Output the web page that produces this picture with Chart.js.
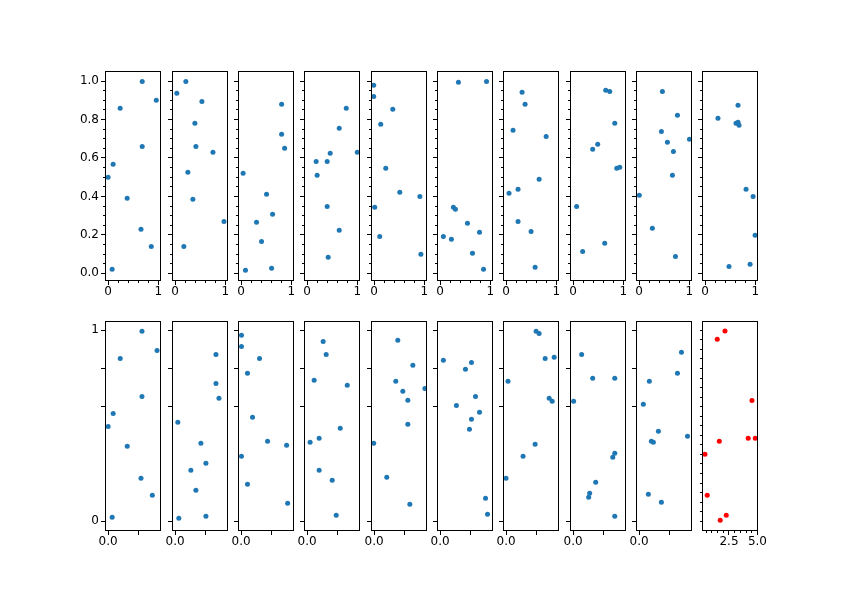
<!DOCTYPE html>
<html>
<head>
<meta charset="utf-8">
<script src="https://cdn.jsdelivr.net/npm/chart.js@4"></script>
<style>
  body { margin: 0; background: #fff; }
  #fig { position: relative; width: 842px; height: 595px; overflow: hidden; background: #fff; }
  #fig canvas { position: absolute; }
</style>
</head>
<body>
<div id="fig"></div>
<script>
// ---- top row: ten panels, x and y per panel ----
const topX = [
    [0.68, 0.96, 0.24, 0.68, 0.10, 0.00, 0.38, 0.655, 0.86, 0.08],
    [0.214, 0.034, 0.534, 0.394, 0.414, 0.754, 0.254, 0.354, 0.974, 0.174],
    [0.807, 0.807, 0.867, 0.04, 0.507, 0.627, 0.307, 0.407, 0.087, 0.607],
    [0.78, 0.64, 0.46, 1.0, 0.18, 0.40, 0.20, 0.40, 0.64, 0.42],
    [-0.008, -0.008, 0.372, 0.132, 0.232, 0.512, 0.912, 0.012, 0.112, 0.932],
    [0.365, 0.925, 0.265, 0.305, 0.545, 0.785, 0.065, 0.225, 0.645, 0.865],
    [0.318, 0.378, 0.138, 0.798, 0.658, 0.058, 0.238, 0.238, 0.498, 0.578],
    [0.65, 0.73, 0.83, 0.49, 0.39, 0.87, 0.93, 0.07, 0.63, 0.19],
    [0.464, 0.764, 0.444, 1.004, 0.564, 0.684, 0.664, 0.004, 0.264, 0.724],
    [0.256, 0.656, 0.616, 0.656, 0.676, 0.816, 0.956, 0.996, 0.476, 0.896]
];
const topY = [
    [0.998, 0.90, 0.858, 0.66, 0.567, 0.50, 0.39, 0.229, 0.14, 0.021],
    [0.998, 0.936, 0.894, 0.78, 0.66, 0.629, 0.525, 0.385, 0.27, 0.14],
    [0.879, 0.723, 0.65, 0.52, 0.411, 0.307, 0.265, 0.166, 0.016, 0.026],
    [0.858, 0.754, 0.624, 0.629, 0.582, 0.582, 0.51, 0.348, 0.224, 0.083],
    [0.978, 0.92, 0.853, 0.775, 0.546, 0.421, 0.40, 0.343, 0.192, 0.099],
    [0.993, 0.998, 0.343, 0.333, 0.26, 0.213, 0.192, 0.177, 0.104, 0.021],
    [0.941, 0.879, 0.744, 0.712, 0.489, 0.416, 0.437, 0.27, 0.218, 0.031],
    [0.952, 0.946, 0.78, 0.671, 0.645, 0.546, 0.551, 0.348, 0.156, 0.114],
    [0.946, 0.822, 0.738, 0.697, 0.681, 0.634, 0.51, 0.406, 0.234, 0.088],
    [0.806, 0.874, 0.78, 0.785, 0.77, 0.437, 0.40, 0.198, 0.036, 0.047]
];

// ---- bottom row: nine blue panels ----
const botX = [
    [0.675, 0.975, 0.241, 0.675, 0.101, 0.001, 0.381, 0.655, 0.881, 0.081],
    [0.814, 0.814, 0.874, 0.054, 0.514, 0.614, 0.314, 0.414, 0.074, 0.614],
    [0.007, 0.007, 0.367, 0.127, 0.227, 0.527, 0.907, 0.007, 0.127, 0.927],
    [0.32, 0.38, 0.14, 0.80, 0.66, 0.24, 0.06, 0.24, 0.50, 0.58],
    [0.472, 0.772, 0.432, 1.012, 0.572, 0.672, 0.672, -0.008, 0.252, 0.712],
    [0.065, 0.625, 0.505, 0.705, 0.325, 0.785, 0.625, 0.585, 0.905, 0.945],
    [0.598, 0.658, 0.958, 0.778, 0.038, 0.858, 0.918, 0.578, 0.338, -0.002],
    [0.17, 0.39, 0.83, 0.01, 0.83, 0.79, 0.45, 0.33, 0.31, 0.83],
    [0.844, 0.764, 0.204, 0.084, 0.384, 0.964, 0.244, 0.284, 0.184, 0.444]
];
const botY = [
    [0.995, 0.895, 0.853, 0.654, 0.565, 0.497, 0.393, 0.225, 0.136, 0.021],
    [0.874, 0.722, 0.644, 0.518, 0.408, 0.304, 0.267, 0.162, 0.016, 0.026],
    [0.974, 0.916, 0.853, 0.775, 0.545, 0.419, 0.398, 0.34, 0.194, 0.094],
    [0.942, 0.874, 0.738, 0.712, 0.487, 0.435, 0.414, 0.267, 0.215, 0.031],
    [0.948, 0.817, 0.733, 0.696, 0.681, 0.634, 0.508, 0.408, 0.23, 0.089],
    [0.843, 0.832, 0.796, 0.654, 0.607, 0.571, 0.534, 0.482, 0.12, 0.037],
    [0.995, 0.984, 0.859, 0.853, 0.733, 0.644, 0.628, 0.403, 0.34, 0.225],
    [0.874, 0.749, 0.749, 0.628, 0.356, 0.335, 0.204, 0.147, 0.126, 0.026],
    [0.885, 0.775, 0.733, 0.613, 0.471, 0.445, 0.419, 0.414, 0.141, 0.099]
];

// ---- bottom right red panel ----
const redX = [2.15, 1.47, 4.52, 1.65, 4.19, 4.81, 0.39, 0.59, 1.73, 2.26];
const redY = [0.996, 0.953, 0.633, 0.419, 0.435, 0.435, 0.351, 0.136, 0.005, 0.031];

// ---- ticks ----
const topXTicks = [0, 1];
const topXLabels = ['0', '1'];
const topXMinor = [0.2, 0.4, 0.6, 0.8];
const topYTicks = [0, 0.2, 0.4, 0.6, 0.8, 1.0];
const topYLabels = ['0.0', '0.2', '0.4', '0.6', '0.8', '1.0'];
const topYMinor = [0.05, 0.1, 0.15, 0.25, 0.3, 0.35, 0.45, 0.5, 0.55, 0.65, 0.7, 0.75, 0.85, 0.9, 0.95];
const botXTicks = [0, 0.615];
const botXLabels = ['0.0', ''];
const botYTicks = [0, 0.6, 0.8, 1];
const botYLabels = ['0', '', '', '1'];
const redXTicks = [2.5, 5.0];
const redXLabels = ['2.5', '5.0'];
const redXMinor = [0.5, 1.0, 1.5, 2.0, 3.0, 3.5, 4.0, 4.5];
const redYMinor = [0, 0.05, 0.1, 0.15, 0.2, 0.25, 0.3, 0.35, 0.4, 0.45, 0.5,
                   0.55, 0.6, 0.65, 0.7, 0.75, 0.8, 0.85, 0.9, 0.95, 1.0];

const FONT = { family: 'DejaVu Sans', size: 12 };
const PAD = { l: 40, r: 16, t: 12, b: 26 };
const W = 56, H = 210;
const ROW_TOP = [71, 321];

// spines on all four sides
const framePlugin = {
    id: 'frame',
    afterDraw(chart) {
        const a = chart.chartArea, c = chart.ctx;
        c.save();
        c.strokeStyle = '#000';
        c.lineWidth = 1;
        c.strokeRect(Math.round(a.left) + 0.5, Math.round(a.top) + 0.5,
                     Math.round(a.right - a.left) - 1, Math.round(a.bottom - a.top) - 1);
        c.restore();
    }
};

function axis(dir, pos, range, ticks, labels, len, weight, size) {
    return {
        type: 'linear', axis: dir, position: pos, weight: weight,
        min: range[0], max: range[1],
        afterBuildTicks: function(s) { s.ticks = ticks.map(function(v) { return { value: v }; }); },
        afterFit: function(s) { if (dir === 'x') s.height = size; else s.width = size; },
        ticks: {
            autoSkip: false, maxRotation: 0, minRotation: 0, font: FONT, color: '#000',
            padding: dir === 'x' ? 0 : 2,
            callback: function(v, i) { return labels ? labels[i] : ''; }
        },
        grid: { drawOnChartArea: false, drawTicks: true, tickLength: len, tickColor: '#000', tickWidth: 1 },
        border: { display: false }
    };
}

function panel(left, top, xs, ys, color, sc) {
    const cv = document.createElement('canvas');
    cv.width = W + PAD.l + PAD.r;
    cv.height = H + PAD.t + PAD.b;
    cv.style.left = (left - PAD.l) + 'px';
    cv.style.top = (top - PAD.t) + 'px';
    document.getElementById('fig').appendChild(cv);

    const scales = {
        x: axis('x', 'bottom', sc.xr, sc.xt, sc.xl, 4, 1, PAD.b),
        y: axis('y', 'left', sc.yr, sc.yt, sc.yl, 4, 1, PAD.l)
    };
    if (sc.xm) scales.xm = axis('x', 'bottom', sc.xr, sc.xm, null, 2, 0, 0);
    if (sc.ym) scales.ym = axis('y', 'left', sc.yr, sc.ym, null, 2, 0, 0);

    let pts = [];
    for (let i = 0; i < xs.length; i++) {
        pts.push({ x: xs[i], y: ys[i] });
    }

    new Chart(cv, {
        type: 'scatter',
        data: { datasets: [{ data: pts, backgroundColor: color, borderWidth: 0,
                             pointRadius: 2.5, pointHoverRadius: 2.5 }] },
        options: {
            responsive: false, animation: false, devicePixelRatio: 1,
            layout: { padding: { top: PAD.t, right: PAD.r, left: 0, bottom: 0 } },
            plugins: { legend: { display: false }, tooltip: { enabled: false } },
            scales: scales
        },
        plugins: [framePlugin]
    });
}

for (let i = 0; i < 10; i++) {
    let left = Math.round(105.25 + i * 66.36);
    panel(left, ROW_TOP[0], topX[i], topY[i], '#1f77b4', {
        xr: [-0.062, 1.054], xt: topXTicks, xl: topXLabels, xm: topXMinor,
        yr: [-0.040, 1.052], yt: topYTicks, yl: i === 0 ? topYLabels : null, ym: topYMinor
    });
}
for (let i = 0; i < 9; i++) {
    let left = Math.round(105.25 + i * 66.36);
    panel(left, ROW_TOP[1], botX[i], botY[i], '#1f77b4', {
        xr: [-0.062, 1.054], xt: botXTicks, xl: botXLabels,
        yr: [-0.051, 1.049], yt: botYTicks, yl: i === 0 ? botYLabels : null
    });
}
panel(Math.round(105.25 + 9 * 66.36), ROW_TOP[1], redX, redY, '#ff0000', {
    xr: [0.13, 5.05], xt: redXTicks, xl: redXLabels, xm: redXMinor,
    yr: [-0.051, 1.049], yt: [], yl: null, ym: redYMinor
});
</script>
</body>
</html>
